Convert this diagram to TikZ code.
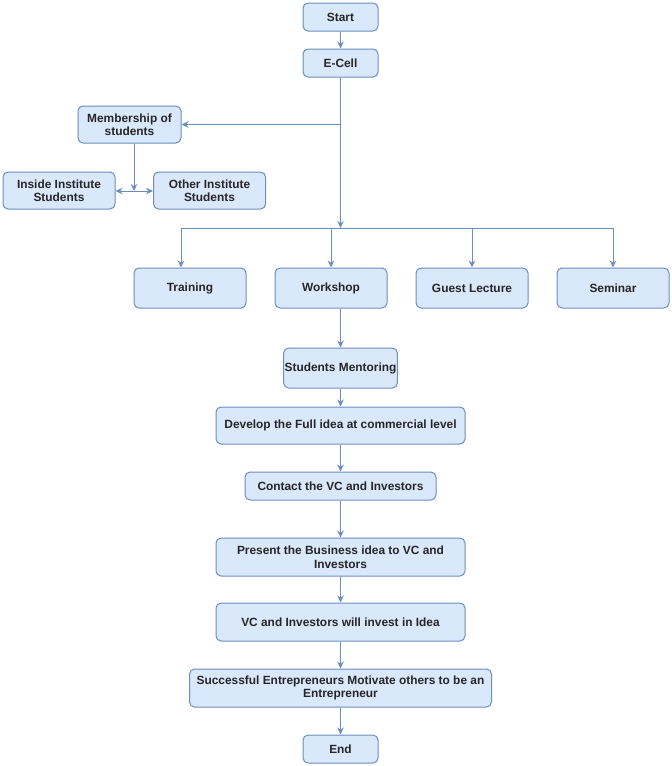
\documentclass[tikz,border=0pt]{standalone}
\usepackage{fontspec}
\setmainfont{Liberation Sans}
\usetikzlibrary{arrows.meta}
\definecolor{boxfill}{HTML}{DAE8FC}
\definecolor{boxline}{HTML}{6C8EBF}
\tikzset{
  box/.style={draw=boxline, fill=boxfill, rounded corners=5pt, line width=1pt,
    align=center, font=\fontsize{11.9}{13.5}\selectfont\bfseries, inner sep=1pt, text=black!85},
  conn/.style={draw=boxline, line width=1pt, -{Stealth[length=7pt,width=6.5pt]}},
  plain/.style={draw=boxline, line width=1pt},
}
\begin{document}
\begin{tikzpicture}[x=1pt,y=-1pt]
\useasboundingbox (0,0) rectangle (672,766);
\node[box, minimum width=75pt, minimum height=28pt] (start) at (340.5,17) {Start};
\node[box, minimum width=75pt, minimum height=28pt] (ecell) at (340.5,63) {E-Cell};
\node[box, minimum width=103pt, minimum height=37pt] (member) at (129.5,124.5) {Membership of\\students};
\node[box, minimum width=112pt, minimum height=37pt] (inside) at (59,190.5) {Inside Institute\\Students};
\node[box, minimum width=112pt, minimum height=37pt] (other) at (209.5,190.5) {Other Institute\\Students};
\node[box, minimum width=112pt, minimum height=40pt] (training) at (190,288) {Training};
\node[box, minimum width=112pt, minimum height=40pt] (workshop) at (331,288) {Workshop};
\node[box, minimum width=112pt, minimum height=40pt] (guest) at (472,288) {Guest Lecture};
\node[box, minimum width=112pt, minimum height=40pt] (seminar) at (613,288) {Seminar};
\node[box, minimum width=112pt, minimum height=40pt] (mentor) at (340.5,368) {Students Mentoring};
\node[box, minimum width=249pt, minimum height=37pt] (develop) at (340.5,425.5) {Develop the Full idea at commercial level};
\node[box, minimum width=191pt, minimum height=28pt] (contact) at (340.5,486) {Contact the VC and Investors};
\node[box, minimum width=249pt, minimum height=38pt] (present) at (340.5,557) {Present the Business idea to VC and\\Investors};
\node[box, minimum width=249pt, minimum height=38pt] (invest) at (340.5,622) {VC and Investors will invest in Idea};
\node[box, minimum width=302pt, minimum height=38pt] (success) at (340.5,688) {Successful Entrepreneurs Motivate others to be an\\Entrepreneur};
\node[box, minimum width=75pt, minimum height=28pt] (end) at (340.5,749) {End};

\coordinate (hub) at (340.5,228);
\coordinate (branch) at (340.5,124.5);
\coordinate (hl) at (181,228);
\coordinate (hr) at (613,228);
\coordinate (msplit) at (134,191);

\draw[conn] (start) -- (ecell);
\draw[conn] (ecell.south) -- (hub);
\draw[conn] (branch) -- (member.east);
\draw[plain] (hl) -- (hr);
\draw[conn] (hl) -- (hl |- training.north);
\draw[conn] (workshop.north |- hub) -- (workshop.north);
\draw[conn] (guest.north |- hub) -- (guest.north);
\draw[conn] (hr) -- (seminar.north);
\draw[conn] (member.south -| msplit) -- (msplit);
\draw[draw=boxline, line width=1pt, {Stealth[length=7pt,width=6.5pt]}-{Stealth[length=7pt,width=6.5pt]}] (inside.east |- msplit) -- (other.west |- msplit);
\draw[conn] (workshop.south -| mentor.north) -- (mentor.north);
\draw[conn] (mentor) -- (develop);
\draw[conn] (develop) -- (contact);
\draw[conn] (contact) -- (present);
\draw[conn] (present) -- (invest);
\draw[conn] (invest) -- (success);
\draw[conn] (success) -- (end);
\end{tikzpicture}
\end{document}
